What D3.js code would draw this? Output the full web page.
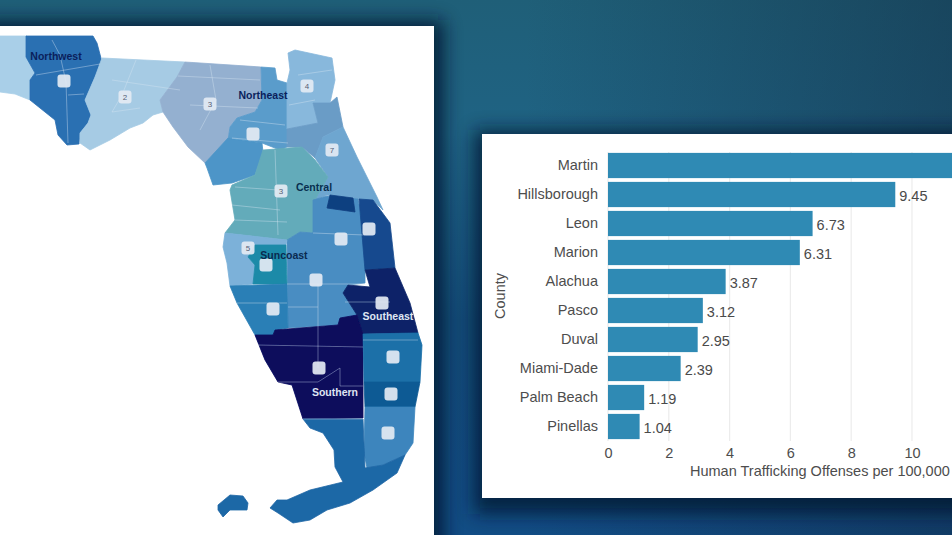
<!DOCTYPE html>
<html><head><meta charset="utf-8">
<style>html,body{margin:0;padding:0;background:#0d3f63;overflow:hidden}svg{display:block}
text{font-family:"Liberation Sans",Arial,sans-serif}</style>
<script src="https://cdn.jsdelivr.net/npm/d3@7"></script></head><body>
<svg id="c" width="952" height="535"></svg>
<script>
// ---- bar chart data ----
const counties=["Martin","Hillsborough","Leon","Marion","Alachua","Pasco","Duval","Miami-Dade","Palm Beach","Pinellas"];
const offenses=[12.1,9.45,6.73,6.31,3.87,3.12,2.95,2.39,1.19,1.04];
const xTicks=[0,2,4,6,8,10];
const xTitle="Human Trafficking Offenses per 100,000";
const yTitle="County";
// ---- map data: outlines, in picture units ----
const mapRegions=[
 ["#a9cfe8",[[0,36],[27,36],[27,58],[35,73],[30,80],[30,100],[15,94],[0,92]]],
 ["#2a6fb2",[[26,36],[93,36],[97,43],[102,62],[95,77],[85,100],[91,115],[88,123],[80,133],[79,144],[67,145],[58,135],[55,120],[30,100],[30,80],[35,73],[26,57]]],
 ["#a6cbe4",[[102,58],[185,62],[177,77],[160,100],[163,112],[153,115],[143,123],[130,128],[110,140],[90,150],[80,143],[80,133],[88,123],[91,115],[85,100],[95,77]]],
 ["#94b0d0",[[185,62],[261,67],[262,100],[255,112],[237,118],[230,127],[228,140],[205,163],[188,147],[173,127],[163,112],[160,100],[177,77]]],
 ["#5a9ccb",[[261,67],[275,68],[277,80],[287,83],[287,147],[280,150],[262,143],[232,138],[228,140],[230,127],[237,118],[255,112],[262,100]]],
 ["#4d95c8",[[228,138],[262,143],[263,152],[255,175],[232,183],[213,185],[207,168],[205,163]]],
 ["#88b8dc",[[288,53],[295,50],[332,58],[335,80],[330,103],[313,103],[318,123],[287,129],[287,83],[290,70]]],
 ["#6b9cc6",[[313,103],[330,103],[337,97],[343,127],[323,137],[322,140],[315,158],[302,147],[287,147],[287,129],[318,123]]],
 ["#6ea6d0",[[323,137],[343,127],[357,157],[377,197],[383,210],[373,200],[358,199],[327,195],[315,200],[328,177],[315,158]]],
 ["#63abba",[[263,150],[302,147],[315,160],[328,177],[315,200],[313,233],[300,232],[287,240],[225,233],[235,220],[230,190],[232,185],[255,175]]],
 ["#4a8dc2",[[313,200],[327,196],[358,199],[365,237],[365,283],[348,285],[343,293],[357,315],[340,318],[338,325],[288,328],[287,240],[300,232],[313,233]]],
 ["#7bb1d9",[[225,233],[287,240],[286,245],[255,245],[248,257],[255,265],[253,284],[230,286],[227,263],[223,247]]],
 ["#1c8aa8",[[255,245],[286,245],[287,284],[253,284],[255,265],[248,257]]],
 ["#2b7fb6",[[230,286],[287,284],[288,328],[275,330],[273,335],[255,335],[237,303]]],
 ["#154a8e",[[359,199],[373,200],[390,223],[395,268],[365,270]]],
 ["#103f80",[[330,195],[353,198],[355,212],[327,208]]],
 ["#0a2468",[[365,270],[395,268],[410,303],[418,333],[363,334],[357,315],[343,293],[348,285],[370,287]]],
 ["#07085c",[[255,335],[273,335],[275,330],[338,325],[340,318],[357,315],[363,334],[363,418],[303,419],[292,385],[278,382],[265,360],[257,340]]],
 ["#1a6fa8",[[363,334],[418,333],[422,345],[420,382],[364,382]]],
 ["#0e5a94",[[364,382],[420,382],[415,407],[365,407]]],
 ["#3c85bd",[[365,407],[415,407],[413,443],[405,455],[383,465],[367,468],[364,453]]],
 ["#1f67a6",[[303,419],[363,419],[365,468],[383,465],[405,455],[397,473],[373,490],[350,503],[327,510],[310,520],[293,523],[278,513],[270,508],[277,500],[287,500],[310,490],[343,482],[335,467],[334,450],[323,433],[310,428]]],
 ["#1f67a6",[[218,505],[230,495],[243,496],[248,503],[247,510],[230,510],[223,517],[218,510]]]
];
const countyLines=[
 [[52,40],[60,55],[66,82],[68,143]],[[36,75],[100,64]],[[68,95],[84,94]],
 [[136,60],[122,95],[112,112],[140,108]],[[112,80],[180,90]],[[178,76],[260,80]],[[210,65],[216,100],[200,130]],[[190,105],[258,108]],
 [[298,75],[332,70]],[[289,105],[315,100]],[[240,120],[285,125]],[[232,138],[288,143]],
 [[275,150],[278,235]],[[235,187],[278,190]],[[232,205],[280,210]],[[235,220],[287,222]],
 [[313,233],[365,235]],[[287,284],[365,284]],[[318,284],[318,328]],[[288,307],[318,307]],[[237,303],[287,303]],
 [[258,345],[363,347]],[[318,328],[318,368]],[[278,382],[318,382],[340,368],[340,386],[363,386]],[[363,419],[303,419]],[[363,340],[418,340]],[[345,302],[390,302]]
];
const regionNames=["Northwest","Northeast","Central","Suncoast","Southeast","Southern"];
const regionSpots=[[56,56],[263,95],[314,187],[284,255],[388,316],[335,392]];
const regionInk=["#0a1f5c","#0a1f5c","#082f4f","#0a2a50","#dfe6f2","#dfe4f2"];
const badgeSpots=[[64,81],[125,97],[210,104],[307,86],[253,134],[332,150],[281,191],[248,248],[266,265],[369,229],[341,239],[316,280],[273,309],[382,303],[319,368],[393,357],[391,394],[388,433]];
const badgeNotes=["","2","3","4","","7","3","5","","","","","","","","","",""];

const svg=d3.select("#c"),defs=svg.append("defs");
// background
const bg=defs.append("linearGradient").attr("id","bg").attr("x1",0).attr("y1",0).attr("x2",0).attr("y2",1);
bg.selectAll("stop").data([[0,"#1f5f78"],[.25,"#1f6384"],[.6,"#134c78"],[1,"#124d85"]]).enter().append("stop").attr("offset",d=>d[0]).attr("stop-color",d=>d[1]);
svg.append("rect").attr("width",952).attr("height",535).attr("fill","url(#bg)");
const dk=defs.append("linearGradient").attr("id","dk").attr("x1",0).attr("y1",0).attr("x2",1).attr("y2",0);
dk.selectAll("stop").data([[.55,0],[1,.42]]).enter().append("stop").attr("offset",d=>d[0]).attr("stop-color","#10233a").attr("stop-opacity",d=>d[1]);
svg.append("rect").attr("width",952).attr("height",535).attr("fill","url(#dk)");
defs.append("filter").attr("id","sh").attr("x","-20%").attr("y","-20%").attr("width","140%").attr("height","140%").append("feGaussianBlur").attr("stdDeviation",9);
defs.append("filter").attr("id","soft").append("feGaussianBlur").attr("stdDeviation",.7);
svg.append("rect").attr("x",-20).attr("y",20).attr("width",464).attr("height",540).attr("fill","#04192e").attr("opacity",.8).attr("filter","url(#sh)");
svg.append("rect").attr("x",474).attr("y",130).attr("width",500).attr("height",384).attr("fill","#04192e").attr("opacity",.75).attr("filter","url(#sh)");
// panels
svg.append("rect").attr("x",0).attr("y",26).attr("width",434).attr("height",509).attr("fill","#fff");
svg.append("rect").attr("x",482).attr("y",134).attr("width",470).attr("height",364).attr("fill","#fff");

// map
const geo=d3.geoPath(d3.geoIdentity());
const mapG=svg.append("g").attr("filter","url(#soft)");
mapG.selectAll("path.r").data(mapRegions).enter().append("path").attr("class","r")
 .attr("d",d=>geo({type:"Polygon",coordinates:[[...d[1],d[1][0]]]})).attr("fill",d=>d[0]).attr("stroke",d=>d[0]).attr("stroke-width",.8);
mapG.selectAll("path.l").data(countyLines).enter().append("path").attr("class","l")
 .attr("d",d=>geo({type:"LineString",coordinates:d})).attr("fill","none").attr("stroke","#d8e6f2").attr("stroke-opacity",.4).attr("stroke-width",1);
const badge=svg.append("g").selectAll("g").data(badgeSpots).enter().append("g").attr("transform",d=>`translate(${d[0]},${d[1]})`);
badge.append("rect").attr("x",-6.5).attr("y",-6.5).attr("width",13).attr("height",13).attr("rx",3).attr("fill","#e4ebf4").attr("opacity",.92).attr("filter","url(#soft)");
badge.append("text").attr("text-anchor","middle").attr("dy",3).attr("font-size",8).attr("fill","#555e75").text((d,i)=>badgeNotes[i]);
svg.append("g").selectAll("text").data(regionNames).enter().append("text")
 .attr("x",(d,i)=>regionSpots[i][0]).attr("y",(d,i)=>regionSpots[i][1]).attr("dy",3.5).attr("text-anchor","middle")
 .attr("font-size",10.5).attr("font-weight",700).attr("fill",(d,i)=>regionInk[i]).text(d=>d);

// bars
const x=d3.scaleLinear().domain([0,10]).range([608,912]);
const y=d3.scaleBand().domain(counties).range([151,441]).paddingInner(.13).paddingOuter(.065);
const g=svg.append("g");
g.selectAll("line.g").data(xTicks).enter().append("line").attr("x1",d=>x(d)).attr("x2",d=>x(d)).attr("y1",152).attr("y2",441).attr("stroke","#ececec").attr("stroke-width",1.2);
const rows=counties.map((c,i)=>({c,v:offenses[i]}));
g.selectAll("rect.b").data(rows).enter().append("rect").attr("class","b").attr("x",x(0)).attr("y",d=>y(d.c)).attr("width",d=>x(d.v)-x(0)).attr("height",y.bandwidth()).attr("fill","#2f8ab4");
g.selectAll("text.v").data(rows.slice(1)).enter().append("text").attr("class","v").attr("x",d=>x(d.v)+4).attr("y",d=>y(d.c)+y.bandwidth()/2+6).attr("font-size",14.5).attr("fill","#4a4a4a").text(d=>d3.format(".2f")(d.v));
const ax=g.append("g").attr("transform","translate(0,441)").call(d3.axisBottom(x).tickValues(xTicks).tickSize(0).tickPadding(7));
ax.select(".domain").remove();ax.selectAll("text").attr("font-size",14.5).attr("fill","#4d4d4d").style("font-family",'"Liberation Sans",Arial,sans-serif');
const ay=g.append("g").attr("transform","translate(598,0)").call(d3.axisLeft(y).tickSize(0).tickPadding(0));
ay.select(".domain").remove();ay.selectAll("text").attr("font-size",14.5).attr("fill","#4d4d4d").style("font-family",'"Liberation Sans",Arial,sans-serif');
g.append("text").attr("x",690).attr("y",476).attr("font-size",14.5).attr("fill","#4d4d4d").text(xTitle);
g.append("text").attr("transform","translate(505,296) rotate(-90)").attr("text-anchor","middle").attr("font-size",14.5).attr("fill","#4d4d4d").text(yTitle);
</script></body></html>
